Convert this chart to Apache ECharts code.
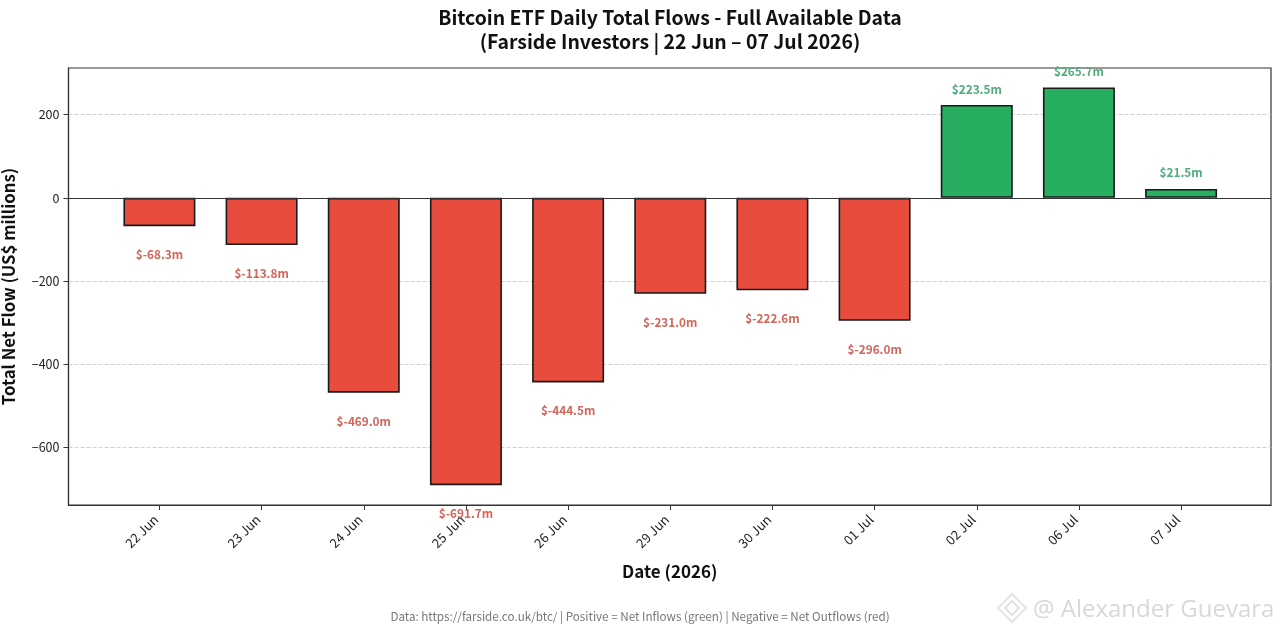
<!DOCTYPE html>
<html>
<head>
<meta charset="utf-8">
<style>html,body{margin:0;padding:0;background:#fff}#c{width:1280px;height:633px}</style>
<script src="https://cdn.jsdelivr.net/npm/echarts@6/dist/echarts.min.js"></script>
</head>
<body>
<div id="c"></div>
<script>
const categories = ['22 Jun','23 Jun','24 Jun','25 Jun','26 Jun','29 Jun','30 Jun','01 Jul','02 Jul','06 Jul','07 Jul'];
const flows = [-68.3,-113.8,-469.0,-691.7,-444.5,-231.0,-222.6,-296.0,223.5,265.7,21.5];
const yTicks = [-600,-400,-200,0,200];
const titleLines = ['Bitcoin ETF Daily Total Flows - Full Available Data','(Farside Investors | 22 Jun – 07 Jul 2026)'];
const footnote = 'Data: https://farside.co.uk/btc/ | Positive = Net Inflows (green) | Negative = Net Outflows (red)';
const watermark = '@ Alexander Guevara';

const FONT = '"Noto Sans CJK SC","Noto Sans",sans-serif';
const RED = '#e74c3c', GREEN = '#27ae60';
const positions = categories.map(function(_, i){ return i; });
const chart = echarts.init(document.getElementById('c'), null, {renderer:'canvas'});
chart.setOption({
  animation:false,
  backgroundColor:'#ffffff',
  textStyle:{fontFamily:FONT},
  title:{
    text:titleLines.join('\n'),
    left:665, top:1, textAlign:'center',
    textStyle:{fontFamily:FONT,fontSize:19.4,fontWeight:'bold',color:'#111',lineHeight:23.5}
  },
  grid:{left:68.5,right:9,top:68,bottom:128,outerBoundsMode:'none',show:true,borderColor:'#333',borderWidth:1.2,backgroundColor:'transparent'},
  xAxis:{
    type:'value',
    min:-0.89,max:10.88,
    name:'Date (2026)',nameLocation:'middle',nameGap:58,nameMoveOverlap:false,
    nameTextStyle:{fontFamily:FONT,fontSize:17,fontWeight:'bold',color:'#111'},
    axisLine:{onZero:false,show:true,lineStyle:{color:'#333',width:1.2}},
    axisTick:{show:true,length:5,customValues:positions,lineStyle:{color:'#333',width:1}},
    splitLine:{show:false},
    axisLabel:{
      customValues:positions,rotate:45,align:'right',verticalAlign:'middle',margin:8.5,padding:[0,5,0,0],
      fontFamily:FONT,fontSize:13,color:'#222',
      formatter:function(v){return categories[Math.round(v)];}
    }
  },
  yAxis:{
    type:'value',
    min:-739.5,max:312.5,
    name:'Total Net Flow (US$ millions)',nameLocation:'middle',nameGap:51,nameMoveOverlap:false,
    nameTextStyle:{fontFamily:FONT,fontSize:16.8,fontWeight:'bold',color:'#111'},
    axisLine:{onZero:false,show:true,lineStyle:{color:'#333',width:1.2}},
    axisTick:{show:true,length:5,customValues:yTicks,lineStyle:{color:'#333',width:1}},
    splitLine:{show:true,lineStyle:{type:'dashed',color:'#cfcfcf',width:1}},
    axisLabel:{
      customValues:yTicks,margin:9,fontFamily:FONT,fontSize:12.5,color:'#222',
      formatter:function(v){return String(v).replace('-','\u2212');}
    }
  },
  series:[{
    type:'bar',
    barWidth:72,
    data:flows.map(function(v,i){
      return {
        value:[i,v],
        itemStyle:{color:v>=0?GREEN:RED,borderColor:'#1a1a1a',borderWidth:1.6},
        label:{
          show:true,
          position:v>=0?'top':'bottom',
          distance:v>=0?10:22.5,
          formatter:'$'+v.toFixed(1)+'m',
          fontFamily:FONT,fontSize:11.8,fontWeight:'bold',
          color:v>=0?'#4fad7b':'#d2665a'
        }
      };
    }),
    markLine:{
      silent:true,symbol:'none',label:{show:false},
      lineStyle:{color:'#333',width:1.2,type:'solid'},
      data:[{yAxis:0}]
    }
  }],
  graphic:[
    {type:'text',left:'center',top:611,style:{text:footnote,fontFamily:FONT,fontSize:11.65,fill:'#777'}},
    {type:'text',left:1033,top:598,style:{text:watermark,fontFamily:'"Open Sans",sans-serif',fontSize:24,fill:'#d8d8d8'}},
    {type:'polygon',shape:{points:[[1012,594],[1026,608],[1012,622],[998,608]]},style:{fill:'none',stroke:'#e2e2e2',lineWidth:2}},
    {type:'polygon',shape:{points:[[1012,601],[1019,608],[1012,615],[1005,608]]},style:{fill:'none',stroke:'#e2e2e2',lineWidth:2}}
  ]
});
</script>
</body>
</html>
